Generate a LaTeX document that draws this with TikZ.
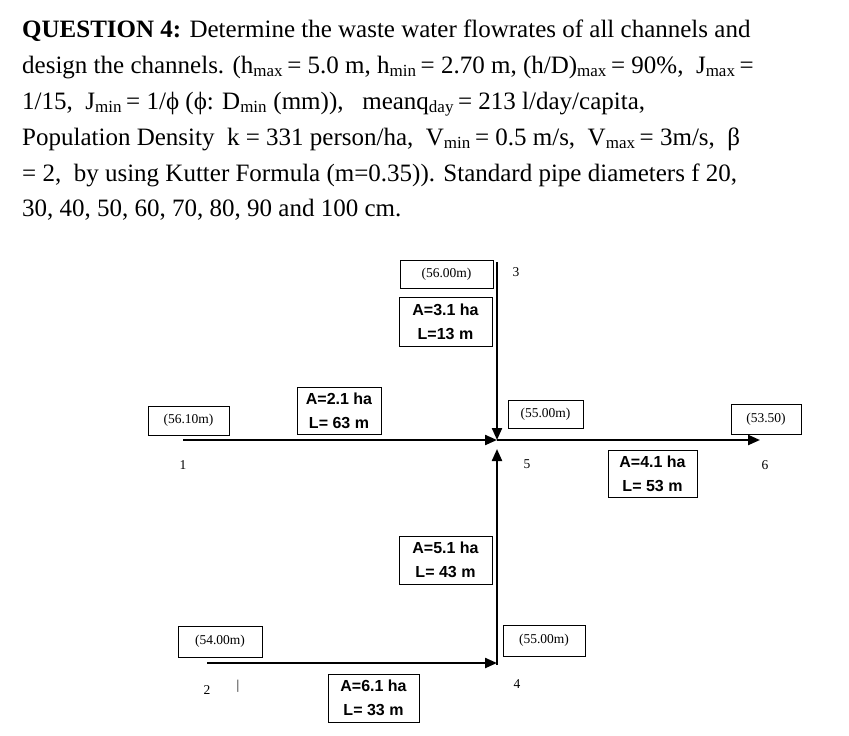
\documentclass[tikz,border=0pt]{standalone}
\usepackage{fontspec}
\setmainfont{Liberation Serif}
\newfontfamily\boxsans{Liberation Sans}
\usetikzlibrary{arrows.meta}
\tikzset{
  title/.style={anchor=base west,inner sep=0pt,font=\fontsize{25}{30}\selectfont},
  elev/.style={draw,line width=0.8pt,inner sep=0pt,font=\fontsize{13.5}{15}\selectfont},
  area/.style={draw,line width=0.8pt,inner sep=0pt,align=center,font=\boxsans\bfseries\fontsize{16}{24}\selectfont},
  num/.style={inner sep=0pt,font=\fontsize{13.5}{15}\selectfont},
  pipe/.style={line width=2.2pt,-{Triangle[length=12pt,width=10pt]}},
}
\newcommand{\sbs}[1]{\textsubscript{\fontsize{17}{20}\selectfont #1}}
\begin{document}
\begin{tikzpicture}[x=1pt,y=-1pt]
\useasboundingbox (0,0) rectangle (849,736);
\node[title] (t1) at (22,37) {\textbf{QUESTION 4:} Determine the waste water flowrates of all channels and};
\node[title] (t2) at (22,73) {design the channels. (h\sbs{max}\,= 5.0 m, h\sbs{min}\,= 2.70 m, (h/D)\sbs{max}\,= 90\%,~ J\sbs{max}\,=};
\node[title] (t3) at (22,109) {1/15,~ J\sbs{min}\,= 1/ϕ (ϕ: D\sbs{min} (mm)),~~ meanq\sbs{day}\,= 213 l/day/capita,};
\node[title] (t4) at (22,145) {Population Density~ k = 331 person/ha,~ V\sbs{min}\,= 0.5 m/s,~ V\sbs{max}\,= 3m/s,~ β};
\node[title] (t5) at (22,181) {= 2,~ by using Kutter Formula (m=0.35)). Standard pipe diameters f 20,};
\node[title] (t6) at (22,216) {30, 40, 50, 60, 70, 80, 90 and 100 cm.};

\coordinate (p1) at (183,440);
\coordinate (p5) at (497,440);
\coordinate (p3) at (497,262);
\coordinate (p6) at (760,440);
\coordinate (p2) at (207,663);
\coordinate (p4) at (497,663);
\coordinate (p4u) at (497,665);
\coordinate (p5b) at (497,449);

\draw[pipe] (p1) -- (p5);
\draw[pipe] (p3) -- (p5);
\draw[pipe] (p5) -- (p6);
\draw[pipe] (p2) -- (p4);
\draw[pipe] (p4u) -- (p5b);

\node[elev,minimum width=93,minimum height=28] (e3) at (446.5,274) {(56.00m)};
\node[area,minimum width=93,minimum height=49] (a3) at (445.5,321.5) {A=3.1 ha\\L=13 m};
\node[elev,minimum width=81,minimum height=29] (e1) at (188.5,420.5) {(56.10m)};
\node[area,minimum width=84,minimum height=47] (a1) at (339,410.5) {A=2.1 ha\\L= 63 m};
\node[elev,minimum width=75,minimum height=28] (e5) at (545.5,414) {(55.00m)};
\node[elev,minimum width=70,minimum height=30] (e6) at (766,419) {(53.50)};
\node[area,minimum width=89,minimum height=47] (a5) at (652.5,473.5) {A=4.1 ha\\L= 53 m};
\node[area,minimum width=93,minimum height=48] (a4) at (445.5,560) {A=5.1 ha\\L= 43 m};
\node[elev,minimum width=84,minimum height=31] (e2) at (220,641.5) {(54.00m)};
\node[elev,minimum width=82,minimum height=31] (e4) at (544,640.5) {(55.00m)};
\node[area,minimum width=91,minimum height=48] (a2) at (373.5,698) {A=6.1 ha\\L= 33 m};

\node[num] (n1) at (183,465) {1};
\node[num] (n3) at (516,272) {3};
\node[num] (n5) at (527,464) {5};
\node[num] (n6) at (765,465) {6};
\node[num] (n2) at (207,690) {2};
\node[num] (tick) at (238,686) {|};
\node[num] (n4) at (517,684) {4};
\end{tikzpicture}
\end{document}
